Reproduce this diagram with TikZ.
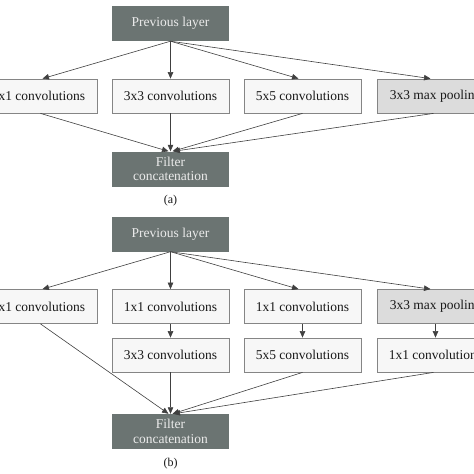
\documentclass[tikz,border=0pt]{standalone}
\usepackage{fontspec}
\setmainfont{Liberation Serif}
\usetikzlibrary{arrows.meta}
\definecolor{darkbox}{HTML}{6B7472}
\definecolor{lightbox}{HTML}{F7F7F7}
\definecolor{poolbox}{HTML}{DCDCDC}
\definecolor{edgegray}{HTML}{858585}
\definecolor{arrowgray}{HTML}{404040}
\tikzset{
  every node/.style={font=\fontsize{13.5}{14}\selectfont},
  darknode/.style={fill=darkbox, text=white!92!black, minimum width=117pt, minimum height=35pt, inner sep=0pt, align=center},
  lightnode/.style={fill=lightbox, draw=edgegray, line width=0.8pt, text=black!90, minimum width=117pt, minimum height=34pt, inner sep=0pt},
  poolnode/.style={lightnode, fill=poolbox},
  conn/.style={draw=arrowgray, line width=0.6pt, -{Triangle[length=6.5pt,width=5.5pt]}},
  caption/.style={text=black!90, font=\fontsize{12}{13}\selectfont}
}
\begin{document}
\begin{tikzpicture}[x=1pt,y=-1pt]
\useasboundingbox (0,0) rectangle (474,474);
\clip (0,0) rectangle (474,474);
\fill[white] (0,0) rectangle (474,474);
% (a)
\node[darknode] (pa) at (170.5,23.5) {Previous layer};
\node[lightnode] (a1) at (38.5,96) {1x1 convolutions};
\node[lightnode] (a2) at (170.5,96) {3x3 convolutions};
\node[lightnode] (a3) at (302.5,96) {5x5 convolutions};
\node[poolnode] (a4) at (435.5,96) {3x3 max pooling};
\node[darknode, font=\fontsize{13.5}{14.5}\selectfont] (fa) at (170.5,169) {Filter\\concatenation};
\node[caption] (capa) at (170.5,201) {(a)};
\draw[conn] (pa.south) -- ([xshift=4pt]a1.north);
\draw[conn] (pa.south) -- (a2.north);
\draw[conn] (pa.south) -- ([xshift=-4pt]a3.north);
\draw[conn] (pa.south) -- ([xshift=-5pt]a4.north);
\draw[conn] ([xshift=2pt]a1.south) -- ([xshift=-2pt]fa.north);
\draw[conn] (a2.south) -- (fa.north);
\draw[conn] (a3.south) -- ([xshift=2pt]fa.north);
\draw[conn] ([xshift=-2pt]a4.south) -- ([xshift=3pt]fa.north);
% (b)
\node[darknode] (pb) at (170.5,234) {Previous layer};
\node[lightnode] (b1) at (38.5,306.5) {1x1 convolutions};
\node[lightnode] (b2) at (170.5,306.5) {1x1 convolutions};
\node[lightnode] (b3) at (302.5,306.5) {1x1 convolutions};
\node[poolnode] (b4) at (435.5,306.5) {3x3 max pooling};
\node[lightnode] (c2) at (170.5,355) {3x3 convolutions};
\node[lightnode] (c3) at (302.5,355) {5x5 convolutions};
\node[lightnode] (c4) at (435.5,355) {1x1 convolutions};
\node[darknode, font=\fontsize{13.5}{14.5}\selectfont] (fb) at (170.5,431.5) {Filter\\concatenation};
\node[caption] (capb) at (170.5,464) {(b)};
\draw[conn] (pb.south) -- ([xshift=4pt]b1.north);
\draw[conn] (pb.south) -- (b2.north);
\draw[conn] (pb.south) -- ([xshift=-4pt]b3.north);
\draw[conn] (pb.south) -- ([xshift=-5pt]b4.north);
\draw[conn] (b2.south) -- (c2.north);
\draw[conn] (b3.south) -- (c3.north);
\draw[conn] (b4.south) -- (c4.north);
\draw[conn] ([xshift=2pt]b1.south) -- ([xshift=-2pt]fb.north);
\draw[conn] (c2.south) -- (fb.north);
\draw[conn] (c3.south) -- ([xshift=2pt]fb.north);
\draw[conn] ([xshift=-2pt]c4.south) -- ([xshift=3pt]fb.north);
\end{tikzpicture}
\end{document}
